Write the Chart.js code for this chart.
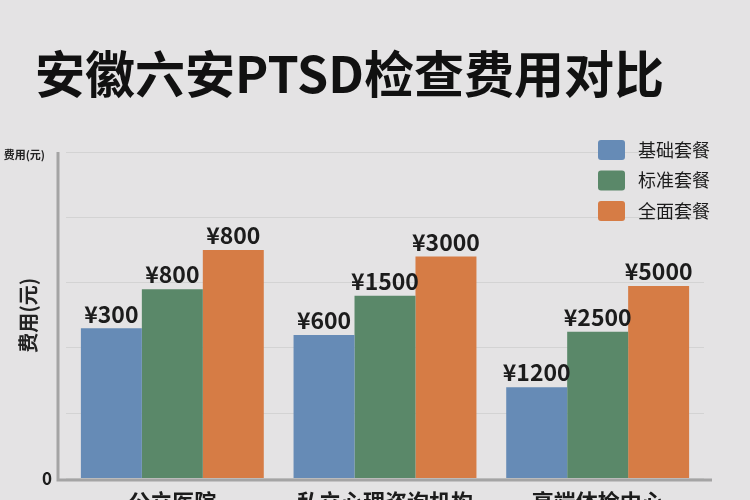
<!DOCTYPE html>
<html>
<head>
<meta charset="utf-8">
<title>安徽六安PTSD检查费用对比</title>
<script src="https://cdn.jsdelivr.net/npm/chart.js@4.4.0/dist/chart.umd.min.js"></script>
<style>
  html, body { margin: 0; padding: 0; background: #e4e3e4; overflow: hidden; }
  #cost-chart { display: block; }
</style>
</head>
<body>
<canvas id="cost-chart" width="750" height="530"></canvas>
<script>
// Categories and series
const categories = ['公立医院', '私立心理咨询机构', '高端体检中心'];
const seriesNames = ['基础套餐', '标准套餐', '全面套餐'];

// Bar heights as drawn in the picture (axis shows no scale, 0 at bottom, top line = 100)
const basicHeights = [46, 44, 28];
const standardHeights = [58, 56, 45];
const fullHeights = [70, 68, 59];

// Price text printed above each bar
const basicPrices = ['¥300', '¥600', '¥1200'];
const standardPrices = ['¥800', '¥1500', '¥2500'];
const fullPrices = ['¥800', '¥3000', '¥5000'];

const yTickLabels = ['0'];

const colors = ['#668bb6', '#5a8869', '#d67c45'];
const priceLabels = [basicPrices, standardPrices, fullPrices];
const FONT = '"Noto Sans CJK SC", "Noto Sans", sans-serif';
const AXIS_COLOR = '#a4a4a4';

// Axis lines, price labels, legend and axis captions
const decorPlugin = {
    id: 'decor',
    beforeDatasetsDraw(chart) {
        // axis lines sit a little outside the plot area, like the original
        const ctx = chart.ctx;
        const a = chart.chartArea;
        ctx.save();
        ctx.strokeStyle = AXIS_COLOR;
        ctx.lineWidth = 3;
        ctx.beginPath();
        ctx.moveTo(a.left - 8, a.top);
        ctx.lineTo(a.left - 8, a.bottom + 1.5);
        ctx.lineTo(a.right + 8, a.bottom + 1.5);
        ctx.stroke();
        ctx.restore();
    },
    afterDatasetsDraw(chart) {
        const ctx = chart.ctx;
        ctx.save();
        ctx.fillStyle = '#1c1c1c';
        ctx.font = 'bold 23px ' + FONT;
        ctx.textAlign = 'center';
        ctx.textBaseline = 'bottom';
        chart.data.datasets.forEach((ds, i) => {
            chart.getDatasetMeta(i).data.forEach((bar, j) => {
                ctx.fillText(priceLabels[i][j], bar.x, bar.y - 3);
            });
        });
        ctx.restore();
    },
    afterDraw(chart) {
        const ctx = chart.ctx;
        const area = chart.chartArea;
        ctx.save();
        // small unit caption at top left
        ctx.fillStyle = '#222';
        ctx.font = 'bold 11px ' + FONT;
        ctx.textAlign = 'right';
        ctx.textBaseline = 'middle';
        ctx.fillText('费用(元)', area.left - 21, area.top + 3);
        // rotated axis title
        ctx.translate(28, (area.top + area.bottom) / 2);
        ctx.rotate(-Math.PI / 2);
        ctx.font = 'bold 20px ' + FONT;
        ctx.textAlign = 'center';
        ctx.fillText('费用(元)', 0, 0);
        ctx.restore();

        // legend in the top right corner
        ctx.save();
        ctx.font = '18px ' + FONT;
        ctx.textBaseline = 'middle';
        ctx.textAlign = 'left';
        chart.data.datasets.forEach((ds, i) => {
            const y = area.top - 2 + i * 30.5;
            ctx.fillStyle = ds.backgroundColor;
            ctx.beginPath();
            ctx.roundRect(area.right - 106, y - 10, 27, 20, 3);
            ctx.fill();
            ctx.fillStyle = '#1c1c1c';
            ctx.fillText(ds.label, area.right - 66, y);
        });
        ctx.restore();
    }
};

const config = {
    type: 'bar',
    data: {
        labels: categories,
        datasets: [
            { label: seriesNames[0], data: basicHeights, backgroundColor: colors[0] },
            { label: seriesNames[1], data: standardHeights, backgroundColor: colors[1] },
            { label: seriesNames[2], data: fullHeights, backgroundColor: colors[2] }
        ]
    },
    options: {
        responsive: false,
        animation: false,
        layout: { padding: { left: 35, right: 46, top: 0, bottom: 13 } },
        datasets: { bar: { categoryPercentage: 0.86, barPercentage: 1.0 } },
        plugins: {
            legend: { display: false },
            tooltip: { enabled: false },
            title: {
                display: true,
                text: '安徽六安PTSD检查费用对比',
                align: 'start',
                color: '#111',
                font: { family: FONT, size: 50, weight: 'bold' },
                padding: { top: 44, bottom: 48 }
            }
        },
        scales: {
            x: {
                grid: { display: false },
                border: { display: false },
                ticks: {
                    color: '#1c1c1c',
                    padding: 2,
                    font: { family: FONT, size: 22, weight: 'bold' }
                }
            },
            y: {
                min: 0,
                max: 100,
                grid: { color: '#d3d3d3', lineWidth: 1, drawTicks: false },
                border: { display: false },
                ticks: {
                    stepSize: 20,
                    padding: 14,
                    color: '#1c1c1c',
                    font: { family: FONT, size: 17, weight: 'bold' },
                    callback: (v, i) => (i < yTickLabels.length ? yTickLabels[i] : '')
                },
                afterFit(scale) { scale.width = 31; }
            }
        }
    },
    plugins: [decorPlugin]
};

const costChart = new Chart(document.getElementById('cost-chart').getContext('2d'), config);
</script>
</body>
</html>
